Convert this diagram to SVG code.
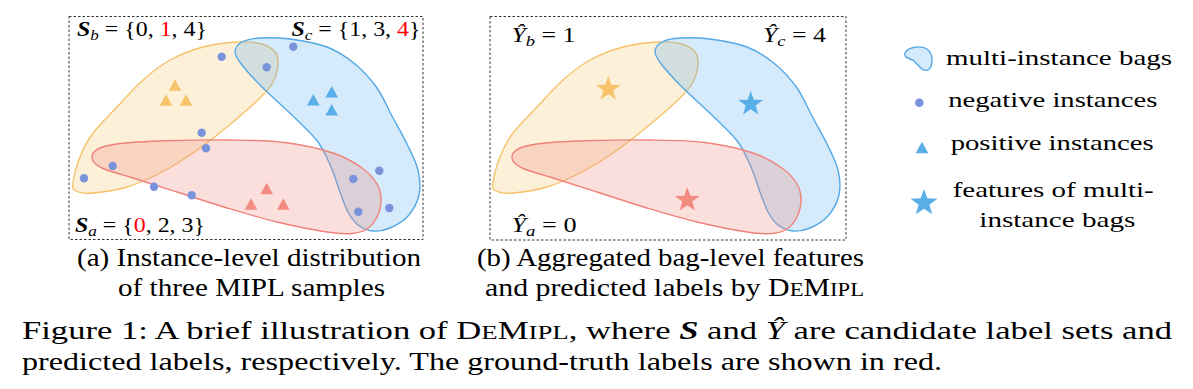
<svg xmlns="http://www.w3.org/2000/svg" width="1193" height="389" viewBox="0 0 1193 389">
<style>
text{font-family:"Liberation Serif","Times New Roman",serif;fill:#000}
.box{fill:none;stroke:#333;stroke-width:1;stroke-dasharray:2.5 2}
.bo{fill:#f7c46c;fill-opacity:.26;stroke:#f5c26a;stroke-width:1.4}
.bb{fill:#5badea;fill-opacity:.26;stroke:#55a8e6;stroke-width:1.4}
.br{fill:#f28b82;fill-opacity:.28;stroke:#f0827a;stroke-width:1.4}
.dot{fill:#7b93db}
.to{fill:#f7c46c}.tb{fill:#5aaee8}.tr{fill:#f28b82}
.m{font-style:italic}
.bi{font-style:italic;font-weight:bold}
.red{fill:#ff0000}
</style>
<defs>
<path id="bagO" d="M73,183 C73.7,177.3 76.7,165.3 80,157 S86.8,141.3 93,133 S108.7,115.8 117,107 S134.2,87.8 143,80 S160,65.5 170,60 S191.8,50 203,47 S227.2,42.5 237,42 S255.7,42.3 262,44 S272.3,48.7 275,52 S278.3,59 278,64 S276,76.3 273,82 S267.7,90.5 260,98 S238.2,117.8 227,127 S204.2,145.3 193,153 S171,167.3 160,173 S138.2,183.7 127,187 S101.5,192.3 93,193 S79.3,192.7 76,191 S72.3,188.7 73,183 Z"/>
<path id="bagB" d="M235,52 C235,48.2 237.8,44.3 242,42 S252,38.5 260,38 S278.8,37.5 290,39 S316.2,42.8 327,47 S346.7,57.2 355,64 S370.8,79.3 377,88 S387,106.7 392,116 S402.7,135 407,144 S416,161.5 418,170 S420.7,187.3 419,195 S412.8,210.5 408,216 S395.8,225.5 390,228 S378.3,231.5 373,231 S362.2,228.2 358,225 S351,217.5 348,212 S342.8,199.5 340,192 S334.7,175.3 331,167 S324,150.2 318,142 S304.3,127.2 295,118 S270.8,95.8 262,87 S246.5,70.8 242,65 S235,55.8 235,52 Z"/>
<path id="bagR" d="M92,158 C91.7,154.7 94.5,150.5 100,148 S112.5,144.3 125,143 S157.5,141 175,140.5 S211.7,139.7 230,140 S267.8,140.3 285,142.5 S320.2,148.8 333,153 S354.7,162.8 362,168 S373.8,178.7 377,184 S381,194.5 381,200 S379.3,212.2 377,217 S371.2,226.3 367,229 S358.7,233 352,233.5 S339.5,233.9 327,232 S293.7,226 277,222 S243.7,213 227,208 S192.7,197 177,192 S145.5,182 133,178 S108.8,171.3 102,168 S92.3,161.3 92,158 Z"/>
<path id="tri" d="M0,-6 L6.3,5.5 L-6.3,5.5 Z"/>
<path id="star" d="M0,-13 L3.1,-4.3 L12.4,-4 L5,1.6 L7.6,10.5 L0,5.3 L-7.6,10.5 L-5,1.6 L-12.4,-4 L-3.1,-4.3 Z"/>
</defs>

<g id="panel-a">
<rect class="box" x="69" y="16.5" width="354" height="223"/>
<g id="bag-b-a"><use href="#bagO" class="bo"/></g>
<g id="bag-c-a"><use href="#bagB" class="bb"/></g>
<g id="bag-a-a"><use href="#bagR" class="br"/></g>
<g id="negatives">
<circle class="dot" cx="221.7" cy="56.7" r="4.2"/>
<circle class="dot" cx="266.7" cy="67.3" r="4.2"/>
<circle class="dot" cx="293.3" cy="46.7" r="4.2"/>
<circle class="dot" cx="201.7" cy="132.7" r="4.2"/>
<circle class="dot" cx="206" cy="148.3" r="4.2"/>
<circle class="dot" cx="112.7" cy="166" r="4.2"/>
<circle class="dot" cx="84" cy="178.3" r="4.2"/>
<circle class="dot" cx="154" cy="186.7" r="4.2"/>
<circle class="dot" cx="191.7" cy="195.3" r="4.2"/>
<circle class="dot" cx="353.3" cy="179" r="4.2"/>
<circle class="dot" cx="379.3" cy="170.7" r="4.2"/>
<circle class="dot" cx="358.3" cy="211.7" r="4.2"/>
<circle class="dot" cx="389.3" cy="208" r="4.2"/>
</g>
<g id="positives">
<use href="#tri" class="to" x="175" y="85.3"/>
<use href="#tri" class="to" x="166" y="100.3"/>
<use href="#tri" class="to" x="186" y="100.3"/>
<use href="#tri" class="tb" x="331.7" y="92"/>
<use href="#tri" class="tb" x="313.3" y="100"/>
<use href="#tri" class="tb" x="331.7" y="110"/>
<use href="#tri" class="tr" x="266.7" y="188.7"/>
<use href="#tri" class="tr" x="251" y="204.3"/>
<use href="#tri" class="tr" x="283.3" y="204.3"/>
</g>
<text id="label-Sb" x="77" y="36" font-size="21" textLength="130" lengthAdjust="spacingAndGlyphs"><tspan class="bi">S</tspan><tspan class="m" font-size="15" dy="4">b</tspan><tspan dy="-4"> = {0, </tspan><tspan class="red">1</tspan><tspan>, 4}</tspan></text>
<text id="label-Sc" x="291.5" y="36" font-size="21" textLength="129" lengthAdjust="spacingAndGlyphs"><tspan class="bi">S</tspan><tspan class="m" font-size="15" dy="4">c</tspan><tspan dy="-4"> = {1, 3, </tspan><tspan class="red">4</tspan><tspan>}</tspan></text>
<text id="label-Sa" x="75" y="231.5" font-size="21" textLength="130" lengthAdjust="spacingAndGlyphs"><tspan class="bi">S</tspan><tspan class="m" font-size="15" dy="4">a</tspan><tspan dy="-4"> = {</tspan><tspan class="red">0</tspan><tspan>, 2, 3}</tspan></text>
</g>

<g id="panel-b">
<rect class="box" x="490" y="16.5" width="356" height="223.5"/>
<g transform="translate(420,0)">
<g id="bag-b-b"><use href="#bagO" class="bo"/></g>
<g id="bag-c-b"><use href="#bagB" class="bb"/></g>
<g id="bag-a-b"><use href="#bagR" class="br"/></g>
</g>
<g id="features">
<use href="#star" class="to" x="608.3" y="89"/>
<use href="#star" class="tb" x="750.7" y="104"/>
<use href="#star" class="tr" x="687.3" y="200"/>
</g>
<text id="label-Yb" x="511.5" y="41.5" font-size="21" textLength="64" lengthAdjust="spacingAndGlyphs"><tspan class="m">Ŷ</tspan><tspan class="m" font-size="15" dy="4">b</tspan><tspan dy="-4"> = 1</tspan></text>
<text id="label-Yc" x="763" y="41.5" font-size="21" textLength="63" lengthAdjust="spacingAndGlyphs"><tspan class="m">Ŷ</tspan><tspan class="m" font-size="15" dy="4">c</tspan><tspan dy="-4"> = 4</tspan></text>
<text id="label-Ya" x="511.5" y="231.5" font-size="21" textLength="65" lengthAdjust="spacingAndGlyphs"><tspan class="m">Ŷ</tspan><tspan class="m" font-size="15" dy="4">a</tspan><tspan dy="-4"> = 0</tspan></text>
</g>

<g id="legend">
<g id="legend-bag">
<path d="M905,53 C908,47 920,45 927,49 C934,54 933,67 928,70 C923,72 919,66 914,61 C910,58 903,58 905,53 Z" class="bb"/>
<text x="946" y="65" font-size="22" textLength="226" lengthAdjust="spacingAndGlyphs">multi-instance bags</text>
</g>
<g id="legend-neg">
<circle class="dot" cx="919.3" cy="102.7" r="4.3"/>
<text x="948.3" y="107.3" font-size="22" textLength="209" lengthAdjust="spacingAndGlyphs">negative instances</text>
</g>
<g id="legend-pos">
<use href="#tri" class="tb" x="922" y="147.7"/>
<text x="950.7" y="150" font-size="22" textLength="203" lengthAdjust="spacingAndGlyphs">positive instances</text>
</g>
<g id="legend-feat">
<use href="#star" class="tb" transform="translate(924,203) scale(1.08)"/>
<text x="952.7" y="196.7" font-size="22" textLength="201" lengthAdjust="spacingAndGlyphs">features of multi-</text>
<text x="979.3" y="226.7" font-size="22" textLength="156" lengthAdjust="spacingAndGlyphs">instance bags</text>
</g>
</g>

<g id="captions">
<text x="77" y="266" font-size="25" textLength="344" lengthAdjust="spacingAndGlyphs">(a) Instance-level distribution</text>
<text x="118" y="296" font-size="25" textLength="267" lengthAdjust="spacingAndGlyphs">of three MIPL samples</text>
<text x="477" y="266" font-size="25" textLength="387" lengthAdjust="spacingAndGlyphs">(b) Aggregated bag-level features</text>
<text x="485" y="296" font-size="25" textLength="379" lengthAdjust="spacingAndGlyphs">and predicted labels by D<tspan font-size="19">E</tspan>M<tspan font-size="19">IPL</tspan></text>
<text x="22" y="339" font-size="24.5" textLength="1150" lengthAdjust="spacingAndGlyphs">Figure 1: A brief illustration of D<tspan font-size="19">E</tspan>M<tspan font-size="19">IPL</tspan>, where <tspan class="bi">S</tspan> and <tspan class="m">Ŷ</tspan> are candidate label sets and</text>
<text x="22" y="370" font-size="24.5" textLength="920" lengthAdjust="spacingAndGlyphs">predicted labels, respectively. The ground-truth labels are shown in red.</text>
</g>
</svg>
